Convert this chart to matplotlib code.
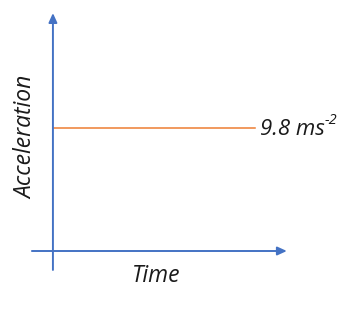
import matplotlib
matplotlib.use("Agg")
import matplotlib.pyplot as plt

# data
accel_value = 9.8
time_end = 10.0
accel_label = "9.8 ms"
accel_sup = "-2"
x_label = "Time"
y_label = "Acceleration"

blue = "#4472C4"
orange = "#ED7D31"

fig = plt.figure(figsize=(3.62, 3.13), dpi=100)
ax = fig.add_axes([0, 0, 1, 1])
ax.set_xlim(-2.62, 15.3)
ax.set_ylim(-4.94, 20.0)
ax.axis("off")

# axes arrows
ax.annotate("", xy=(0, 18.96), xytext=(0, -1.51),
            arrowprops=dict(arrowstyle="-|>,head_length=0.55,head_width=0.25",
                            color=blue, lw=1.4, shrinkA=0, shrinkB=0))
ax.annotate("", xy=(11.58, 0), xytext=(-1.04, 0),
            arrowprops=dict(arrowstyle="-|>,head_length=0.55,head_width=0.25",
                            color=blue, lw=1.4, shrinkA=0, shrinkB=0))

# constant acceleration line
ax.plot([0, time_end], [accel_value, accel_value], color=orange, lw=1.1)

font = dict(family=["Open Sans", "DejaVu Sans"], style="italic", color="#1a1a1a")
t = ax.text(time_end + 0.25, accel_value - 0.15, accel_label, fontsize=16,
            ha="left", va="center", **font)
ax.annotate(accel_sup, xy=(1.0, 0.6), xycoords=t, fontsize=10.5,
            ha="left", va="bottom", **font)

ax.text(5.1, -1.99, x_label, fontsize=16.5, ha="center", va="center", **font)
ax.text(-1.34, 9.08, y_label, fontsize=16.5, ha="center", va="center",
        rotation=90, **font)

fig.savefig("out.png", dpi=100)
